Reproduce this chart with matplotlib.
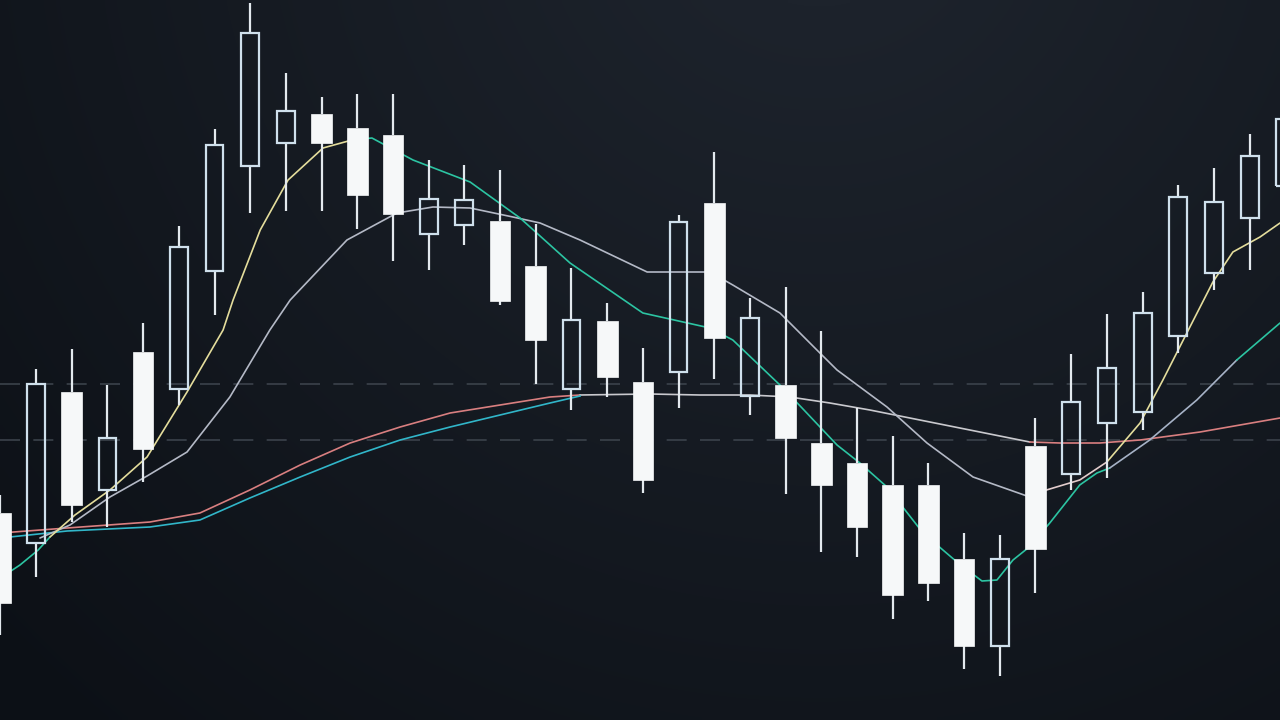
import numpy as np
import matplotlib.pyplot as plt
from matplotlib.colors import LinearSegmentedColormap

# candle data (index = bar number, prices)
opens = [60.7, 57.7, 72.8, 63.0, 76.8, 73.1, 84.9, 95.4, 97.7, 100.6, 99.2, 98.5,
         88.6, 89.5, 89.9, 85.4, 73.1, 79.9, 73.8, 74.8, 91.7, 72.4, 73.5, 67.7,
         65.7, 63.5, 63.5, 56.1, 47.4, 67.4, 64.6, 69.7, 70.8, 78.4, 84.7, 90.2, 93.4]
closes = [51.7, 73.6, 61.5, 68.2, 67.1, 87.3, 97.5, 108.7, 100.9, 97.7, 92.5, 90.6,
          92.1, 92.0, 81.9, 78.0, 80.0, 74.3, 64.0, 89.8, 78.2, 80.2, 68.2, 63.5,
          59.3, 52.5, 53.7, 47.4, 56.1, 57.1, 71.8, 75.2, 80.7, 92.3, 91.8, 96.4, 100.1]
highs = [62.5, 75.1, 77.1, 73.5, 79.7, 89.4, 99.1, 111.7, 104.7, 102.3, 102.6, 102.6,
         96.0, 95.5, 95.0, 89.6, 85.2, 81.7, 77.2, 90.5, 96.8, 82.2, 83.3, 78.9,
         71.2, 68.4, 65.7, 58.7, 58.5, 70.2, 76.6, 80.6, 82.8, 93.5, 95.2, 98.6, 102.0]
lows = [48.5, 54.3, 59.8, 59.3, 63.8, 71.5, 80.5, 90.7, 90.9, 90.9, 89.1, 85.9,
        85.0, 87.5, 81.5, 73.6, 71.0, 72.3, 62.7, 71.2, 74.1, 70.5, 62.6, 56.8,
        56.3, 50.1, 51.9, 45.1, 44.4, 52.7, 63.0, 64.2, 69.0, 76.7, 83.0, 85.0, 92.0]

# moving average style lines (x in bar units)
fast_x = [0.0, 0.55, 1.06, 1.39, 2.09, 3.07, 4.11, 5.23, 6.24, 6.52, 7.28, 8.06, 9.04, 9.85,
          10.41, 11.56, 13.16, 14.56, 15.96, 18.00, 19.88, 20.52, 21.84, 22.46, 23.44, 24.08,
          24.84, 25.85, 26.80, 27.50, 27.92, 28.37, 28.79, 29.40, 30.24, 30.72, 31.08,
          32.20, 33.52, 34.64, 35.85]
fast_y = [54.2, 55.5, 57.0, 58.3, 60.5, 63.0, 66.3, 72.8, 79.0, 82.0, 89.0, 94.0, 97.2, 98.0,
          98.2, 96.0, 93.8, 90.2, 85.7, 80.7, 79.2, 78.0, 73.5, 71.2, 67.5, 65.7,
          63.3, 58.7, 55.8, 53.9, 54.0, 56.0, 57.2, 59.7, 63.5, 64.7, 65.2,
          68.0, 72.0, 76.0, 79.7]

mid_x = [1.11, 1.95, 3.07, 4.11, 5.23, 6.43, 7.55, 8.12, 9.71, 11.11, 12.12, 13.16, 14.36,
         15.12, 16.24, 18.12, 19.88, 20.52, 21.84, 22.96, 23.44, 24.84, 25.96, 27.25, 28.76,
         29.40, 30.24, 31.00, 31.93, 32.57, 33.24, 33.97, 34.53, 35.29, 35.85]
mid_y = [58.2, 59.5, 62.3, 64.4, 66.8, 72.3, 79.0, 82.0, 88.0, 90.7, 91.3, 91.2, 90.3,
         89.7, 88.0, 84.8, 84.8, 83.5, 80.7, 76.7, 75.0, 71.3, 67.7, 64.3, 62.4,
         63.1, 64.0, 65.8, 69.7, 74.0, 78.7, 83.8, 86.8, 88.3, 89.7]

slow_x = [0.0, 1.87, 4.19, 5.59, 6.99, 8.40, 9.80, 11.20, 12.60, 14.00, 15.40, 16.24,
          18.20, 19.60, 21.00, 22.12, 23.24, 24.36, 25.76, 27.16, 28.28, 28.84,
          29.68, 30.80, 31.93, 33.61, 34.73, 35.85]
slow_y = [58.7, 59.2, 59.8, 60.7, 63.0, 65.5, 67.7, 69.3, 70.7, 71.5, 72.3, 72.5,
          72.6, 72.5, 72.5, 72.3, 71.7, 71.0, 70.0, 69.0, 68.2, 67.8,
          67.7, 67.7, 68.0, 68.8, 69.5, 70.2]

long_x = [0.27, 1.87, 4.19, 5.59, 6.99, 8.40, 9.80, 11.20, 12.60, 14.00, 15.40, 16.24]
long_y = [58.3, 58.9, 59.3, 60.0, 62.2, 64.3, 66.3, 68.0, 69.3, 70.5, 71.7, 72.4]

levels = [73.6, 68.0]

TEAL = '#2cc4a2'
YELLOW = '#e4dd9c'
GRAY = '#b4b9c6'
GRAY_BLUE = '#a6b2c6'
PINK = '#d97f80'
CYAN = '#31b6c9'
FLAT = '#c9c9ce'
PALE = '#e2cccc'

fast_segs = [(0, 3, TEAL), (3, 13, YELLOW), (13, 36, TEAL), (36, 39, GRAY_BLUE), (39, 40, TEAL)]
mid_segs = [(0, 24, GRAY), (24, 27, PALE), (27, 34, YELLOW)]
slow_segs = [(0, 11, PINK), (11, 21, FLAT), (21, 27, PINK)]

fig = plt.figure(figsize=(12.8, 7.2), dpi=100)
ax = fig.add_axes([0, 0, 1, 1])
xlim = (-0.01, 35.85)
ylim = (40, 112)

# background glow, lighter near the top middle (row 0 = top of picture)
gx, gy = np.meshgrid(np.linspace(0, 1280, 256), np.linspace(0, 720, 144))
glow = np.clip(1 - np.hypot(gx - 820, gy + 120) / 1150, 0, 1)
bg_cmap = LinearSegmentedColormap.from_list('bg', ['#0c1016', '#1d232c'])
ax.imshow(glow, cmap=bg_cmap, extent=(xlim[0], xlim[1], ylim[0], ylim[1]),
          origin='upper', aspect='auto', zorder=0, interpolation='bilinear')
ax.set_xlim(*xlim)
ax.set_ylim(*ylim)
ax.axis('off')

for lv in levels:
    ax.axhline(lv, color='#3b424b', lw=1.2, ls=(0, (12, 8)), zorder=1)


def draw_segments(xs, ys, segs, lw=1.2):
    for a, b, c in segs:
        ax.plot(xs[a:b + 1], ys[a:b + 1], color=c, lw=lw, zorder=2,
                solid_capstyle='round', solid_joinstyle='round')


draw_segments(slow_x, slow_y, slow_segs)
ax.plot(long_x, long_y, color=CYAN, lw=1.2, zorder=2)
draw_segments(mid_x, mid_y, mid_segs)
draw_segments(fast_x, fast_y, fast_segs)

idx = np.arange(len(opens))
o = np.array(opens)
c = np.array(closes)
top = np.maximum(o, c)
bot = np.minimum(o, c)
up = c > o

ax.vlines(idx, top, highs, color='#e3e9ee', lw=1.6, zorder=3)
ax.vlines(idx, lows, bot, color='#e3e9ee', lw=1.6, zorder=3)

ax.bar(idx[~up], (top - bot)[~up], bottom=bot[~up], width=0.58,
       color='#f6f8f9', edgecolor='#f6f8f9', lw=0.5, zorder=4)
ax.bar(idx[up], (top - bot)[up], bottom=bot[up], width=0.5,
       facecolor='none', edgecolor='#cfe0ec', lw=1.6, zorder=4)

fig.savefig('out.png', dpi=100, facecolor='#10151c')
